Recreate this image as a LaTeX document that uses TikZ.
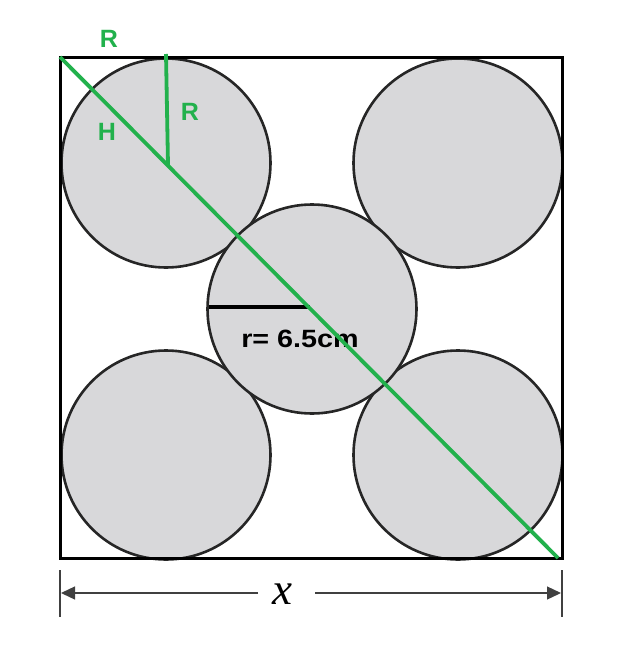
\documentclass[tikz,border=0pt]{standalone}
\usepackage{fontspec}
\setmainfont{Liberation Serif}
\newfontfamily\arialfont{Liberation Sans}
\newfontfamily\widearial[FakeStretch=1.15]{Liberation Sans}
\usetikzlibrary{arrows.meta}
\definecolor{disc}{HTML}{D8D8DA}
\definecolor{grn}{HTML}{22B14C}
\begin{document}
\begin{tikzpicture}[x=1pt,y=-1pt,
  ball/.style={circle,draw=black!85,line width=2.6pt,fill=disc,minimum size=209pt,inner sep=0pt},
  gline/.style={draw=grn,line width=3.8pt},
  glabel/.style={text=grn,inner sep=0pt,font=\arialfont\bfseries\fontsize{25}{25}\selectfont},
  dim/.style={draw=black!75,line width=1.3pt}]
\useasboundingbox (0,0) rectangle (618,656);
\node[ball] (c1) at (166,163) {};
\node[ball] (c2) at (458,163) {};
\node[ball] (c3) at (166,455) {};
\node[ball] (c4) at (458,455) {};
\node[ball] (c5) at (312,309) {};
\draw[line width=3pt] (60,57) rectangle (562,558);
\coordinate (tl) at (60,57);
\coordinate (br) at (558,558);
\coordinate (rtop) at (166,54);
\coordinate (rbot) at (168,165);
\coordinate (rl) at (209,307);
\coordinate (rr) at (310,307);
\draw[line width=4.5pt] (rl) -- (rr);
\node[inner sep=0pt,font=\widearial\bfseries\fontsize{25}{25}\selectfont] (rt) at (300,339) {r= 6.5cm};
\draw[gline] (tl) -- (br);
\draw[gline] (rtop) -- (rbot);
\node[glabel] (lR1) at (109,39) {R};
\node[glabel] (lH) at (107,132) {H};
\node[glabel] (lR2) at (190,112) {R};
% dimension
\coordinate (t1a) at (60,570); \coordinate (t1b) at (60,617);
\coordinate (t2a) at (562,570); \coordinate (t2b) at (562,617);
\draw[dim] (t1a) -- (t1b);
\draw[dim] (t2a) -- (t2b);
\node[inner sep=0pt,font=\itshape\fontsize{45}{45}\selectfont] (lx) at (282,594) {x};
\coordinate (a1) at (61,593); \coordinate (a2) at (561,593);
\draw[dim,-{Triangle[length=14pt,width=13pt]}] (258,593) -- (a1);
\draw[dim,-{Triangle[length=14pt,width=13pt]}] (315,593) -- (a2);
\end{tikzpicture}
\end{document}
